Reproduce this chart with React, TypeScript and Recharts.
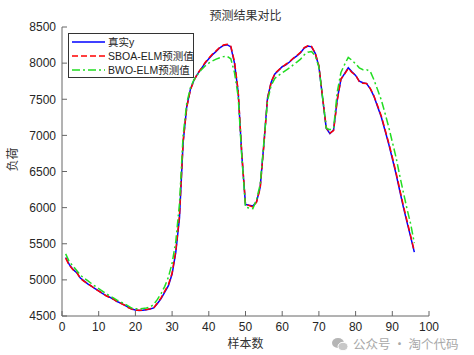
import { LineChart, Line, XAxis, YAxis } from 'recharts';

// ---------------------------------------------------------------------------
// data (sample 1..96)
// ---------------------------------------------------------------------------

const REAL_Y = [
  5310, 5210, 5145, 5100, 5025, 4985, 4945, 4912, 4880, 4847,
  4812, 4783, 4760, 4732, 4700, 4678, 4650, 4622, 4598, 4584,
  4576, 4580, 4588, 4597, 4612, 4672, 4740, 4830, 4920, 5080,
  5380, 5850, 6900, 7400, 7640, 7770, 7855, 7925, 8000, 8060,
  8115, 8163, 8212, 8245, 8255, 8225, 8000, 7600, 6720, 6045,
  6032, 6022, 6080, 6280, 6880, 7520, 7735, 7850, 7900, 7950,
  7975, 8015, 8063, 8100, 8145, 8208, 8237, 8225, 8135, 7955,
  7520, 7100, 7025, 7075, 7500, 7775, 7855, 7935, 7880, 7830,
  7750, 7728, 7716, 7645, 7540, 7395, 7255, 7070, 6885, 6680,
  6470, 6240, 6010, 5800, 5595, 5385,
];

const SBOA_ELM = [
  5300, 5200, 5140, 5105, 5020, 4980, 4948, 4915, 4875, 4845,
  4815, 4780, 4758, 4735, 4698, 4675, 4652, 4618, 4595, 4580,
  4578, 4582, 4590, 4600, 4615, 4680, 4750, 4845, 4935, 5095,
  5400, 5880, 6910, 7390, 7630, 7765, 7860, 7930, 8010, 8070,
  8125, 8170, 8220, 8250, 8262, 8235, 8020, 7620, 6740, 6040,
  6030, 6010, 6075, 6270, 6860, 7510, 7740, 7855, 7905, 7945,
  7985, 8020, 8068, 8105, 8150, 8215, 8240, 8232, 8140, 7965,
  7530, 7110, 7030, 7065, 7480, 7780, 7850, 7925, 7870, 7835,
  7745, 7720, 7718, 7650, 7545, 7410, 7270, 7085, 6900, 6700,
  6490, 6260, 6030, 5820, 5610, 5395,
];

const BWO_ELM = [
  5360, 5250, 5190, 5130, 5065, 5025, 4990, 4950, 4915, 4880,
  4845, 4810, 4780, 4750, 4720, 4695, 4670, 4640, 4610, 4600,
  4600, 4605, 4610, 4625, 4660, 4730, 4810, 4910, 5040, 5230,
  5530, 6050, 7000, 7450, 7660, 7775, 7845, 7910, 7960, 8000,
  8030, 8055, 8075, 8090, 8095, 8060, 7870, 7540, 6700, 6005,
  5995, 5985, 6110, 6320, 6900, 7480, 7690, 7790, 7830, 7865,
  7900, 7935, 7975, 8015, 8055, 8115, 8150, 8160, 8100, 7945,
  7530, 7100, 7080, 7095, 7600, 7870, 7980, 8080, 8040, 7990,
  7935, 7910, 7910, 7885, 7770, 7630, 7490, 7310, 7120, 6910,
  6700, 6450, 6215, 5985, 5775, 5510,
];

const X_TICKS = [0, 10, 20, 30, 40, 50, 60, 70, 80, 90, 100];
const Y_TICKS = [4500, 5000, 5500, 6000, 6500, 7000, 7500, 8000, 8500];

const SERIES = [
  { key: 'real', name: '真实y', color: '#0000ff', dash: undefined },
  { key: 'sboa', name: 'SBOA-ELM预测值', color: '#ff0000', dash: '6 3' },
  { key: 'bwo', name: 'BWO-ELM预测值', color: '#22dd22', dash: '8 3 2 3' },
];

const chartData = REAL_Y.map((v, i) => ({
  sample: i + 1,
  real: v,
  sboa: SBOA_ELM[i],
  bwo: BWO_ELM[i],
}));

const LATIN = '"Liberation Sans", Arial, sans-serif';
const CJK = '"Noto Sans CJK SC", "Liberation Sans", sans-serif';
const MIXED = '"Liberation Sans", "Noto Sans CJK SC", sans-serif';
const AXIS_COLOR = '#666666';

// ---------------------------------------------------------------------------
// legend box, matlab style (kept outside the chart so it doesn't eat plot height)
// ---------------------------------------------------------------------------

function BoxLegend() {
  return (
    <svg
      width={134}
      height={46}
      style={{ position: 'absolute', left: 68, top: 33, display: 'block' }}
    >
      <rect x={0.5} y={0.5} width={125} height={44} fill="#fff" stroke="#333" />
      {SERIES.map((s, i) => {
        const cy = 9 + i * 14;
        return (
          <g key={s.key}>
            <line
              x1={4}
              x2={37}
              y1={cy}
              y2={cy}
              stroke={s.color}
              strokeWidth={1.5}
              strokeDasharray={s.dash}
            />
            <text x={40} y={cy + 4} fontSize={10.5} fontFamily={MIXED} fill="#222">
              {s.name}
            </text>
          </g>
        );
      })}
    </svg>
  );
}

export default function App() {
  return (
    <div style={{ position: 'absolute', left: 0, top: 0, width: 474, height: 355, background: '#fff' }}>
      <div
        style={{
          position: 'absolute',
          left: 62,
          width: 367,
          top: 7,
          textAlign: 'center',
          fontFamily: CJK,
          fontSize: 12,
          lineHeight: '16px',
          color: '#333',
        }}
      >
        预测结果对比
      </div>
      <LineChart
        width={474}
        height={355}
        data={chartData}
        margin={{ top: 27, right: 45, left: 4, bottom: 3 }}
      >
        <XAxis
          dataKey="sample"
          type="number"
          domain={[0, 100]}
          ticks={X_TICKS}
          interval={0}
          height={36}
          tickSize={-5}
          tickMargin={11}
          stroke={AXIS_COLOR}
          tick={{ fontSize: 12, fill: '#262626', fontFamily: LATIN }}
          label={{ value: '样本数', position: 'insideBottom', offset: 4, fontSize: 12, fill: '#333', fontFamily: CJK }}
        />
        <XAxis
          xAxisId="top"
          orientation="top"
          dataKey="sample"
          type="number"
          domain={[0, 100]}
          ticks={X_TICKS}
          interval={0}
          height={0}
          tickSize={-5}
          tick={false}
          stroke={AXIS_COLOR}
        />
        <YAxis
          type="number"
          domain={[4500, 8500]}
          ticks={Y_TICKS}
          interval={0}
          width={58}
          tickSize={-5}
          tickMargin={11}
          stroke={AXIS_COLOR}
          tick={{ fontSize: 12, fill: '#262626', fontFamily: LATIN }}
          label={{ value: '负荷', angle: -90, position: 'insideLeft', offset: 9, fontSize: 12, fill: '#333', fontFamily: CJK }}
        />
        <YAxis
          yAxisId="right"
          orientation="right"
          type="number"
          domain={[4500, 8500]}
          ticks={Y_TICKS}
          interval={0}
          width={0}
          tickSize={-5}
          tick={false}
          stroke={AXIS_COLOR}
        />
        {SERIES.map((s) => (
          <Line
            key={s.key}
            type="linear"
            dataKey={s.key}
            name={s.name}
            stroke={s.color}
            strokeWidth={1.5}
            strokeDasharray={s.dash}
            dot={false}
            activeDot={false}
            isAnimationActive={false}
          />
        ))}
      </LineChart>
      <BoxLegend />
      {/* watermark */}
      <div
        style={{
          position: 'absolute',
          left: 331,
          top: 336,
          height: 16,
          display: 'flex',
          alignItems: 'center',
          color: '#a8a8a8',
          fontFamily: CJK,
          fontSize: 12.5,
          lineHeight: '16px',
          whiteSpace: 'nowrap',
        }}
      >
        <svg width={18} height={15}>
          <ellipse cx={7} cy={6} rx={6} ry={5} fill="#b5b5b5" />
          <ellipse cx={12} cy={9.5} rx={5} ry={4.2} fill="#c8c8c8" stroke="#fff" strokeWidth={1} />
        </svg>
        <span style={{ marginLeft: 4 }}>公众号 · 淘个代码</span>
      </div>
    </div>
  );
}
